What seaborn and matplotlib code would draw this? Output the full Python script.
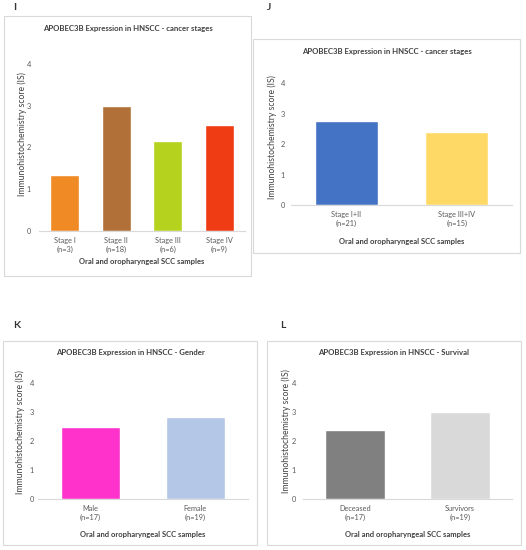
import matplotlib
matplotlib.use("Agg")
import matplotlib.pyplot as plt
import seaborn as sns
from matplotlib.patches import Rectangle

# values
stage_labels = ["Stage I\n(n=3)", "Stage II\n(n=18)", "Stage III\n(n=6)", "Stage IV\n(n=9)"]
stage_scores = [1.33, 3.0, 2.16, 2.55]
stage_colors = ["#F08A24", "#B07038", "#B5D31E", "#F03C14"]

grouped_labels = ["Stage I+II\n(n=21)", "Stage III+IV\n(n=15)"]
grouped_scores = [2.74, 2.38]
grouped_colors = ["#4472C4", "#FFD966"]

gender_labels = ["Male\n(n=17)", "Female\n(n=19)"]
gender_scores = [2.49, 2.82]
gender_colors = ["#FF33CC", "#B4C7E7"]

survival_labels = ["Deceased\n(n=17)", "Survivors\n(n=19)"]
survival_scores = [2.37, 3.0]
survival_colors = ["#808080", "#D9D9D9"]

sns.set_style("white")
plt.rcParams["font.family"] = ["Lato", "DejaVu Sans"]

W, H = 526, 550
fig = plt.figure(figsize=(W / 100, H / 100), dpi=100)

GRID = "#D9D9D9"
TICK = "#595959"


def fx(px):
    return px / W


def fy(py):
    return 1 - py / H


def panel(letter, letter_xy, box, plot, ypad, title, title_y, ylab_xy, xlab_y,
          labels, scores, colors, bar_w):
    bx0, by0, bx1, by1 = box
    fig.patches.append(Rectangle((fx(bx0), fy(by1)), fx(bx1 - bx0), (by1 - by0) / H,
                                 transform=fig.transFigure, fill=False,
                                 edgecolor=GRID, linewidth=0.8))
    fig.text(fx(letter_xy[0]), fy(letter_xy[1]), letter, fontsize=7.5,
             fontweight="bold", ha="center", va="center", color="#333333")
    fig.text(fx((bx0 + bx1) / 2), fy(title_y), title, fontsize=5.6,
             fontweight="bold", ha="center", va="center", color="#404040")

    x0, y0, x1, y4 = plot
    ax = fig.add_axes([fx(x0), fy(y0), fx(x1 - x0), (y0 - y4) / H])
    sns.barplot(x=labels, y=scores, hue=labels, palette=colors, legend=False,
                width=bar_w, saturation=1, ax=ax)
    ax.set_ylim(0, 4)
    ax.set_yticks([0, 1, 2, 3, 4])
    ax.set_xlim(-0.5, len(labels) - 0.5)
    for s in ["top", "left", "right"]:
        ax.spines[s].set_visible(False)
    ax.spines["bottom"].set_color(GRID)
    ax.spines["bottom"].set_linewidth(0.8)
    ax.tick_params(axis="both", length=0, labelsize=5.3, labelcolor=TICK)
    ax.tick_params(axis="y", pad=ypad)
    ax.tick_params(axis="x", pad=4)
    for t in ax.get_xticklabels():
        t.set_linespacing(1.45)
    ax.set_xlabel("")
    ax.set_ylabel("")
    ax.set_facecolor("none")

    fig.text(fx(ylab_xy[0]), fy(ylab_xy[1]), "Immunohistochemistry score (IS)",
             rotation=90, fontsize=6.2, ha="center", va="center", color="#404040")
    fig.text(fx((x0 + x1) / 2), fy(xlab_y), "Oral and oropharyngeal SCC samples",
             fontsize=5.5, fontweight="bold", ha="center", va="center",
             color="#404040")
    return ax


panel("I", (15, 8), (4, 16, 251, 276), (39, 231, 245, 64), 5.8,
      "APOBEC3B Expression in HNSCC - cancer stages", 28, (22, 134), 261,
      stage_labels, stage_scores, stage_colors, 0.56)

panel("J", (269, 8), (253, 39, 520, 253), (291, 205, 512, 83), 4.3,
      "APOBEC3B Expression in HNSCC - cancer stages", 52, (272, 137), 242,
      grouped_labels, grouped_scores, grouped_colors, 0.57)

panel("K", (17, 325), (3, 341, 257, 545), (38, 499, 248, 383), 3.0,
      "APOBEC3B Expression in HNSCC - Gender", 353, (20, 432), 534,
      gender_labels, gender_scores, gender_colors, 0.57)

panel("L", (283, 325), (267, 341, 521, 545), (303, 499, 512, 383), 5.0,
      "APOBEC3B Expression in HNSCC - Survival", 353, (286, 431), 534,
      survival_labels, survival_scores, survival_colors, 0.57)

fig.savefig("out.png", dpi=100)
